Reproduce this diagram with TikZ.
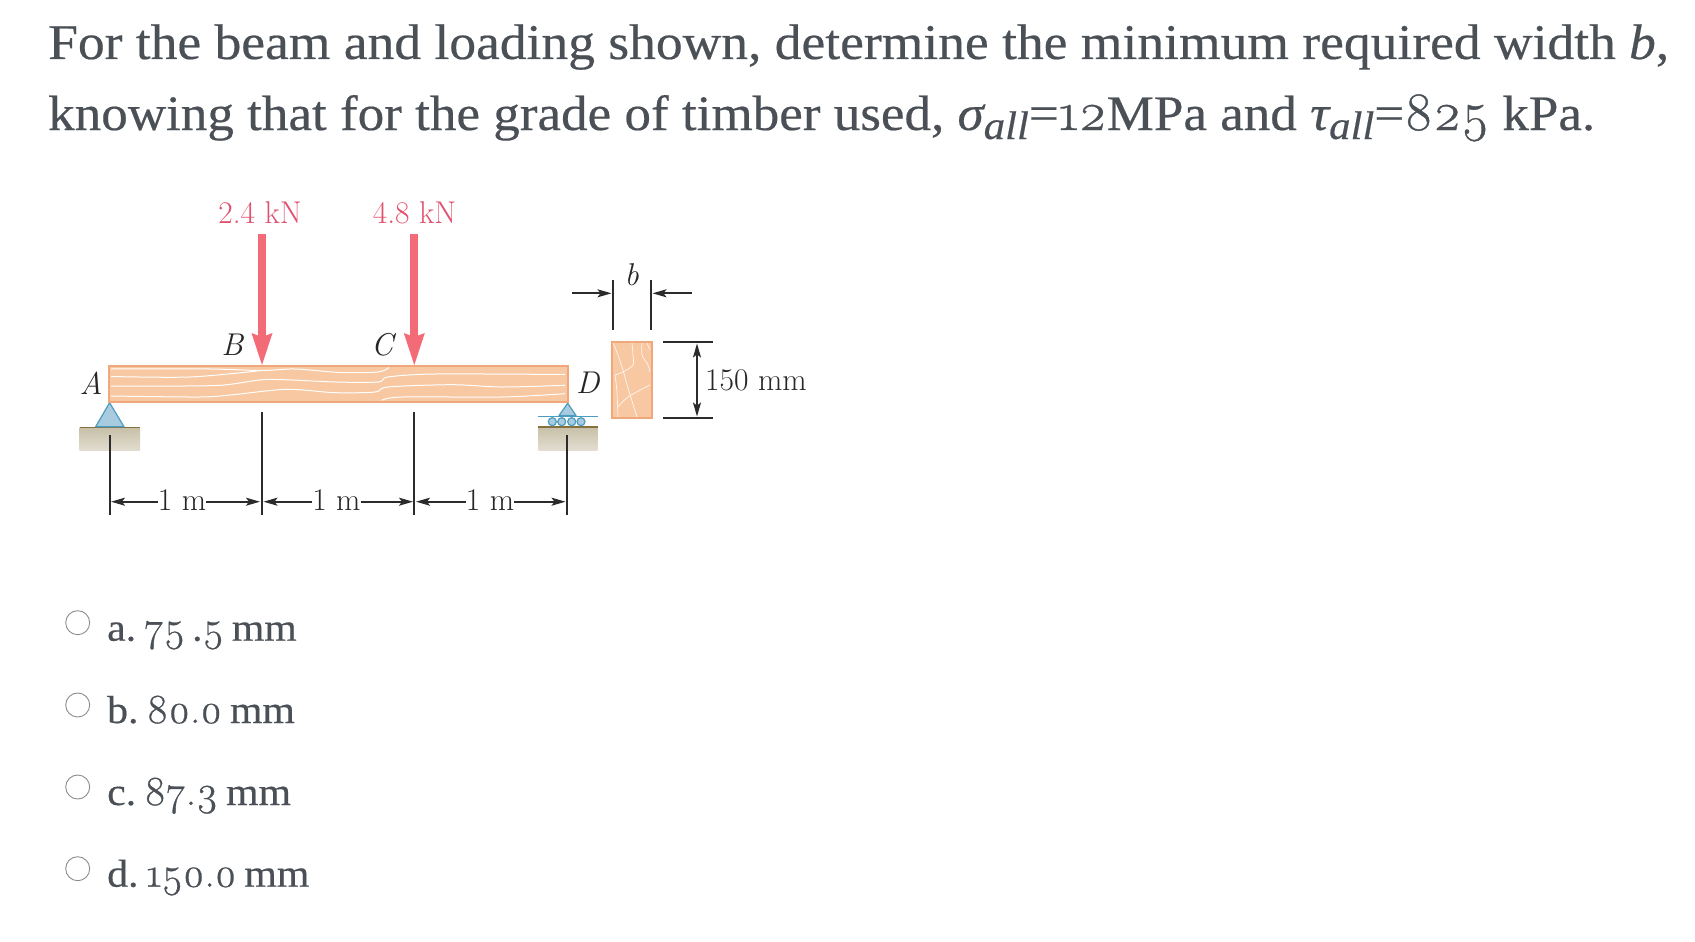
\documentclass[tikz,border=0pt]{standalone}
\usepackage{fontspec}
\setmainfont{Liberation Serif}
\newfontfamily\quizfont[FakeStretch=1.07,FakeBold=0.4]{Liberation Serif}
\newfontfamily\oldfont[Numbers=OldStyle,Scale=1.09,FakeBold=0.7]{Latin Modern Roman}
\newfontfamily\oldans[Numbers=OldStyle,Scale=1.06,FakeBold=0.7]{Latin Modern Roman}
\newfontfamily\figfont{Latin Modern Roman}
\usetikzlibrary{arrows.meta}

\definecolor{quizgray}{HTML}{4A5056}
\definecolor{loadred}{HTML}{F36B77}
\definecolor{labelred}{HTML}{E2506E}
\definecolor{woodfill}{HTML}{F7C8A2}
\definecolor{woodedge}{HTML}{EFA77B}
\definecolor{pinblue}{HTML}{A9CBE0}
\definecolor{pinedge}{HTML}{4B9CBF}
\definecolor{soiltop}{HTML}{C7BFA7}
\definecolor{soilbot}{HTML}{E2DDD0}
\definecolor{soilline}{HTML}{85713F}
\definecolor{inkline}{HTML}{2B2B2B}

\newcommand{\suball}{\raisebox{-9pt}{\fontsize{40}{44}\selectfont all}}
\newcommand{\gap}{\hspace{8pt}}

\tikzset{
  quiz/.style={anchor=base west,inner sep=0pt,text=quizgray,font=\fontsize{50}{54}\selectfont\quizfont},
  answer/.style={anchor=base west,inner sep=0pt,text=quizgray,font=\fontsize{39}{44}\selectfont\quizfont},
  radio/.style={circle,draw=black!45,line width=.9pt,minimum size=24pt,inner sep=0pt},
  figlabel/.style={inner sep=0pt,text=black!85,font=\fontsize{31.5}{34}\selectfont\figfont},
  loadlabel/.style={figlabel,text=labelred},
  dim/.style={-{Stealth[length=14pt,width=8pt,inset=3pt]},draw=inkline,line width=1.7pt},
  ext/.style={draw=inkline,line width=1.8pt},
  grain/.style={draw=white,line width=1pt},
  grainsec/.style={draw=white!85!woodfill,line width=.7pt},
}

\begin{document}
\begin{tikzpicture}[x=1pt,y=-1pt]
        \useasboundingbox (0,0) rectangle (1695,942);
        % question
        \node[quiz] (line1) at (48,59) {For the beam and loading shown, determine the minimum required width \textit{b},};
        \node[quiz,font=\fontsize{49.6}{54}\selectfont\quizfont] (line2) at (48,130) {knowing that for the grade of timber used, \textit{σ\suball}={\oldfont 12}MPa and \textit{τ\suball}={\oldfont 825} kPa.};
        % answers
        \foreach \name/\ypos/\txt in {a/622.7/{a.\gap{\oldans 75}\hspace{7pt}.{\oldans 5}\gap mm},b/705/{b.\gap{\oldans 80.0}\gap mm},c/787/{c.\gap{\oldans 87.3}\gap mm},d/868.7/{d.\gap{\oldans 150.0}\gap mm}}{
            \node[radio] (radio\name) at (77.7,\ypos) {};
            \node[answer] (answer\name) at (107,\ypos+18) {\txt};
        }
        % ground
        \shade[top color=soiltop,bottom color=soilbot] (79.6,427.3) rectangle (140,450.7);
        \shade[top color=soiltop,bottom color=soilbot] (538.3,426.7) rectangle (597.7,450);
        \draw[soilline,line width=1.6pt] (79.6,427.3) -- (140,427.3);
        \draw[soilline,line width=1.6pt] (538.3,426.7) -- (597.7,426.7);
        % supports
        \draw[fill=pinblue,draw=pinedge,line width=1.2pt,line join=round] (109.6,402.7) -- (124,426.7) -- (95.7,426.7) -- cycle;
        \draw[fill=pinblue,draw=pinedge,line width=1.2pt,line join=round] (567.7,403.3) -- (576,415.5) -- (559,415.5) -- cycle;
        \foreach \xpos in {552.3,561.7,571.7,581}
            \draw[fill=pinblue,draw=pinedge,line width=1.2pt] (\xpos,421.7) circle (4);
        \draw[pinedge,line width=1.6pt] (538,416.3) -- (597.7,416.3);
        % beam
        \draw[fill=woodfill,draw=woodedge,line width=2.2pt] (109,365.7) rectangle (568,401.7);
        \draw[grain] plot[smooth] coordinates {(111,369) (210,369) (262,370.5) (295,369) (340,372.5) (378,372) (389,367.5)};
        \draw[grain] plot[smooth] coordinates {(111,376.5) (190,377) (262,370.5)};
        \draw[grain] plot[smooth] coordinates {(111,386) (216,385.5) (267,379.5) (335,382) (378,382) (388,377) (435,374) (565,374.5)};
        \draw[grain] plot[smooth] coordinates {(111,396) (200,397) (233,394.7) (287,389.3) (335,392.7) (375,392) (388,387) (452,384.7) (502,387) (565,385.3)};
        \draw[grain] plot[smooth] coordinates {(381.7,400.3) (402,397) (502,397) (565,393.7)};
        % loads
        \coordinate (tipB) at (262,365);
        \coordinate (tipC) at (414.3,365);
        \fill[loadred] (258,234) rectangle (266,340);
        \fill[loadred] (410.3,234) rectangle (418.3,340);
        \fill[loadred] (tipB) -- (251.5,333) -- (262,337) -- (272.5,333) -- cycle;
        \fill[loadred] (tipC) -- (403.8,333) -- (414.3,337) -- (424.8,333) -- cycle;
        \node[loadlabel] (labelB) at (260,213) {2.4 kN};
        \node[loadlabel] (labelC) at (414.5,213) {4.8 kN};
        % points
        \node[figlabel] (ptA) at (91,383) {\textit{A}};
        \node[figlabel] (ptB) at (232.6,345) {\textit{B}};
        \node[figlabel] (ptC) at (383.7,345) {\textit{C}};
        \node[figlabel] (ptD) at (588,383) {\textit{D}};
        % dimensions along the beam
        \foreach \name/\xpos/\ytop in {A/109.6/435,B/261.8/412.3,C/414.3/412.3,D/566.8/435}{
            \coordinate (top\name) at (\xpos,\ytop);
            \coordinate (bot\name) at (\xpos,515);
            \draw[ext] (top\name) -- (bot\name);
        }
        \foreach \name/\xpos in {one/182,two/336.4,three/490}
            \node[figlabel,anchor=base] (span\name) at (\xpos,510.7) {1 m};
        \coordinate (dimrow) at (0,501.7);
        \draw[dim] (spanone.west |- dimrow) -- (111,501.7);
        \draw[dim] (spanone.east |- dimrow) -- (260,501.7);
        \draw[dim] (spantwo.west |- dimrow) -- (263.5,501.7);
        \draw[dim] (spantwo.east |- dimrow) -- (413,501.7);
        \draw[dim] (spanthree.west |- dimrow) -- (416,501.7);
        \draw[dim] (spanthree.east |- dimrow) -- (565.5,501.7);
        % cross section
        \draw[fill=woodfill,draw=woodedge,line width=2.2pt] (612,341.7) rectangle (652,417.7);
        \draw[grainsec] plot[smooth] coordinates {(613,343) (618,355) (623,370) (628,388) (637,417)};
        \draw[grainsec] plot[smooth] coordinates {(632,343) (633,355) (633,365) (623,372) (615,375)};
        \draw[grainsec] plot[smooth] coordinates {(642,343) (642,355) (648,365) (650,372)};
        \draw[grainsec] (647,343) -- (650,350);
        \draw[grainsec] plot[smooth] coordinates {(615,375) (617,392) (618,417)};
        \draw[grainsec] plot[smooth] coordinates {(618,407) (628,397) (650,385)};
        \draw[ext] (612.7,280) -- (612.7,330);
        \draw[ext] (651.3,280) -- (651.3,330);
        \coordinate (wdthL) at (572.3,293.3);
        \coordinate (wdthR) at (691.7,293.3);
        \draw[dim] (wdthL) -- (611.5,293.3);
        \draw[dim] (wdthR) -- (652.5,293.3);
        \node[figlabel] (wdth) at (631.7,275) {\textit{b}};
        \coordinate (hgtT) at (697,343.5);
        \coordinate (hgtB) at (697,416.5);
        \draw[ext,line width=2pt] (663.3,342.3) -- (712.7,342.3);
        \draw[ext,line width=2pt] (663.3,417.7) -- (712.7,417.7);
        \draw[dim,{Stealth[length=14pt,width=8pt,inset=3pt]}-{Stealth[length=14pt,width=8pt,inset=3pt]}] (hgtT) -- (hgtB);
        \node[figlabel,anchor=base west] (hgt) at (705,390) {150 mm};
\end{tikzpicture}
\end{document}
